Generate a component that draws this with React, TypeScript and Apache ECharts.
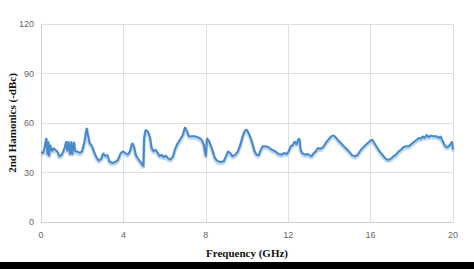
import React, { useEffect, useRef } from "react";
import * as echarts from "echarts";

const freqGHz = [
  0.0, 0.1, 0.18, 0.26, 0.31, 0.36, 0.39, 0.45, 0.53, 0.61, 0.69, 0.79, 0.9, 1.01, 1.15, 1.23, 1.28, 1.34, 1.41, 1.47,
  1.52, 1.6, 1.66, 1.76, 1.88, 1.99, 2.12, 2.22, 2.28, 2.36, 2.48, 2.57, 2.69, 2.8, 2.93, 3.02, 3.12, 3.22, 3.32, 3.45,
  3.61, 3.74, 3.87, 3.98, 4.09, 4.21, 4.32, 4.43, 4.51, 4.6, 4.69, 4.81, 4.92, 4.97, 5.01, 5.08, 5.18, 5.28, 5.37, 5.47,
  5.57, 5.67, 5.76, 5.86, 5.96, 6.05, 6.15, 6.28, 6.41, 6.5, 6.6, 6.7, 6.8, 6.89, 6.99, 7.09, 7.18, 7.31, 7.48, 7.64,
  7.8, 7.9, 7.96, 8.0, 8.06, 8.16, 8.29, 8.43, 8.54, 8.7, 8.87, 8.98, 9.08, 9.19, 9.3, 9.43, 9.56, 9.68, 9.79, 9.89,
  9.99, 10.08, 10.18, 10.28, 10.37, 10.47, 10.57, 10.67, 10.76, 10.89, 11.05, 11.21, 11.37, 11.54, 11.67, 11.8, 11.93, 12.02, 12.12, 12.22,
  12.31, 12.41, 12.48, 12.55, 12.6, 12.68, 12.82, 12.95, 13.05, 13.14, 13.24, 13.34, 13.44, 13.56, 13.69, 13.82, 13.95, 14.08, 14.21, 14.34,
  14.47, 14.63, 14.79, 14.95, 15.11, 15.28, 15.4, 15.53, 15.69, 15.86, 15.99, 16.08, 16.18, 16.31, 16.44, 16.57, 16.7, 16.83, 16.99, 17.1,
  17.23, 17.36, 17.48, 17.59, 17.72, 17.85, 17.98, 18.1, 18.24, 18.34, 18.44, 18.53, 18.63, 18.72, 18.82, 18.92, 19.02, 19.11, 19.21, 19.31,
  19.4, 19.5, 19.6, 19.7, 19.79, 19.89, 19.95, 20.0,
];

const harmonicsDBc = [
  42.2, 41.8, 45.3, 50.9, 40.8, 48.9, 39.8, 46.9, 42.8, 44.8, 43.8, 42.8, 39.8, 40.8, 44.8, 48.9, 42.8, 48.9, 40.8, 48.9,
  40.8, 48.5, 42.8, 42.8, 41.8, 42.8, 48.9, 57.0, 52.9, 47.9, 45.9, 42.8, 39.2, 37.2, 38.4, 41.8, 39.8, 40.8, 36.8, 35.8,
  36.4, 37.8, 41.8, 42.8, 41.8, 40.8, 42.8, 47.9, 45.9, 40.8, 38.8, 36.8, 34.7, 33.7, 50.9, 55.9, 54.9, 51.9, 44.8, 42.8,
  43.8, 41.8, 39.8, 40.8, 39.2, 40.4, 38.8, 37.8, 39.8, 43.8, 46.9, 48.9, 50.9, 52.9, 57.4, 54.9, 51.9, 51.9, 51.9, 51.3,
  49.9, 46.9, 42.8, 39.8, 50.9, 48.9, 44.8, 39.2, 37.2, 36.4, 36.8, 39.8, 42.8, 41.8, 39.8, 40.8, 42.8, 46.9, 51.9, 55.3,
  55.9, 53.9, 50.9, 46.9, 42.8, 40.8, 40.4, 43.8, 45.9, 45.9, 45.3, 43.8, 42.8, 41.2, 40.8, 41.8, 41.2, 42.8, 45.9, 46.5,
  48.9, 46.9, 49.9, 50.5, 43.8, 41.8, 40.8, 41.2, 40.4, 39.8, 41.8, 42.8, 44.8, 44.4, 45.3, 47.9, 49.9, 51.9, 52.5, 50.9,
  48.9, 46.9, 44.8, 42.8, 40.4, 39.8, 41.2, 43.8, 45.9, 47.9, 49.3, 49.9, 47.9, 45.3, 42.8, 40.8, 38.8, 37.6, 38.4, 39.8,
  40.8, 42.8, 43.8, 45.3, 45.9, 45.9, 47.3, 48.5, 49.9, 50.9, 50.5, 51.9, 50.9, 52.9, 51.3, 52.5, 51.9, 51.9, 51.9, 50.9,
  51.9, 48.9, 46.5, 45.3, 45.9, 47.3, 48.9, 43.8,
];

const yTicks = { min: 0, max: 120, interval: 30 };
const xTicks = { min: 0, max: 20, interval: 4 };

export default function App() {
  const ref = useRef<HTMLDivElement>(null);
  useEffect(() => {
    document.body.style.margin = "0";
    if (!ref.current) return;
    const chart = echarts.init(ref.current, undefined, { renderer: "svg" });
    const data = freqGHz.map((f, i) => [f, harmonicsDBc[i]]);
    chart.setOption({
      animation: false,
      backgroundColor: "#ffffff",
      grid: { left: 41, right: 21, top: 24, bottom: 47, containLabel: false, outerBoundsMode: "none" },
      xAxis: {
        type: "value",
        min: xTicks.min,
        max: xTicks.max,
        interval: xTicks.interval,
        name: "Frequency (GHz)",
        nameLocation: "middle",
        nameGap: 25,
        nameMoveOverlap: false,
        nameTextStyle: { fontFamily: "Liberation Serif", fontWeight: "bold", fontSize: 11, color: "#111" },
        axisLine: { show: true, lineStyle: { color: "#d0d0d0" } },
        axisTick: { show: false },
        axisLabel: { color: "#666", fontSize: 9, fontFamily: "sans-serif", margin: 8 },
        splitLine: { show: true, lineStyle: { color: "#e0e0e0" } },
      },
      yAxis: {
        type: "value",
        min: yTicks.min,
        max: yTicks.max,
        interval: yTicks.interval,
        name: "2nd Hamonics (-dBc)",
        nameLocation: "middle",
        nameGap: 24,
        nameRotate: 90,
        nameMoveOverlap: false,
        nameTextStyle: { fontFamily: "Liberation Serif", fontWeight: "bold", fontSize: 11, color: "#111" },
        axisLine: { show: true, lineStyle: { color: "#d0d0d0" } },
        axisTick: { show: false },
        axisLabel: { color: "#666", fontSize: 9, fontFamily: "sans-serif", margin: 7 },
        splitLine: { show: true, lineStyle: { color: "#e0e0e0" } },
      },
      series: [
        {
          type: "line",
          data: data.map(([x, y]) => [x, y - 1]),
          showSymbol: false,
          silent: true,
          lineStyle: { color: "rgba(160,200,240,0.7)", width: 3.5 },
        },
        {
          type: "line",
          data,
          showSymbol: false,
          lineStyle: { color: "#4a88c8", width: 2 },
        },
      ],
      graphic: [
        { type: "rect", left: 0, top: 262, shape: { width: 474, height: 7 }, style: { fill: "#000" } },
      ],
    });
    return () => chart.dispose();
  }, []);
  return <div ref={ref} style={{ position: "fixed", left: 0, top: 0, width: 474, height: 269 }} />;
}
